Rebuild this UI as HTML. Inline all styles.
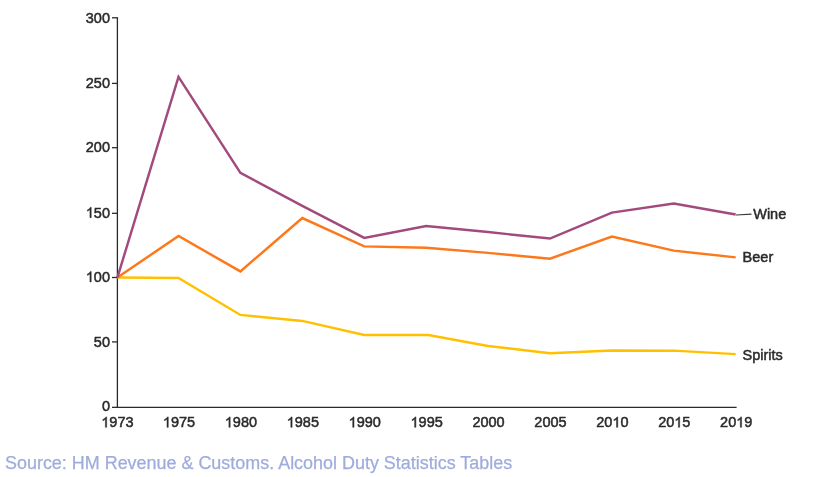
<!DOCTYPE html>
<html><head><meta charset="utf-8"><style>
html,body{margin:0;padding:0;background:#fff;}
body{width:822px;height:477px;overflow:hidden;position:relative;font-family:"Liberation Sans",sans-serif;}
svg{position:absolute;left:0;top:0;will-change:transform;}
.g{fill:#2b2b2b;stroke:#2b2b2b;stroke-width:70px;}
svg text{font-family:"Liberation Sans",sans-serif;font-size:14.5px;fill:#2b2b2b;stroke:#2b2b2b;stroke-width:0.5px;}
.src{position:absolute;left:4.8px;top:453px;font-size:17.96px;color:#9eacdc;-webkit-text-stroke:0.25px #9eacdc;white-space:nowrap;will-change:transform;}
</style></head><body>
<svg width="822" height="477" viewBox="0 0 822 477">
<path d="M117.4,17.2 V408.0 M116.80000000000001,407.4 H736.6" fill="none" stroke="#2b2b2b" stroke-width="1.3"/>
<line x1="112" x2="117.4" y1="407.35" y2="407.35" stroke="#2b2b2b" stroke-width="1.3"/>
<text transform="translate(110.00,411.35) scale(1,1.04)" text-anchor="end">0</text>
<line x1="112" x2="117.4" y1="341.90" y2="341.90" stroke="#2b2b2b" stroke-width="1.3"/>
<text transform="translate(110.00,346.50) scale(1,1.04)" text-anchor="end">50</text>
<line x1="112" x2="117.4" y1="277.50" y2="277.50" stroke="#2b2b2b" stroke-width="1.3"/>
<path class="g" transform="translate(85.807,281.900) scale(0.007080,-0.007080)" d="M763,0 L583,0 L583,1147 Q518,1085 412,1023 Q306,961 222,930 L222,1104 Q373,1175 486,1276 Q599,1377 646,1472 L763,1472 Z"/><text transform="translate(110.00,281.90) scale(1,1.04)" text-anchor="end"> 00</text>
<line x1="112" x2="117.4" y1="213.30" y2="213.30" stroke="#2b2b2b" stroke-width="1.3"/>
<path class="g" transform="translate(85.807,217.700) scale(0.007080,-0.007080)" d="M763,0 L583,0 L583,1147 Q518,1085 412,1023 Q306,961 222,930 L222,1104 Q373,1175 486,1276 Q599,1377 646,1472 L763,1472 Z"/><text transform="translate(110.00,217.70) scale(1,1.04)" text-anchor="end"> 50</text>
<line x1="112" x2="117.4" y1="147.70" y2="147.70" stroke="#2b2b2b" stroke-width="1.3"/>
<text transform="translate(110.00,152.10) scale(1,1.04)" text-anchor="end">200</text>
<line x1="112" x2="117.4" y1="83.40" y2="83.40" stroke="#2b2b2b" stroke-width="1.3"/>
<text transform="translate(110.00,87.80) scale(1,1.04)" text-anchor="end">250</text>
<line x1="112" x2="117.4" y1="17.80" y2="17.80" stroke="#2b2b2b" stroke-width="1.3"/>
<text transform="translate(110.00,22.90) scale(1,1.04)" text-anchor="end">300</text>
<path class="g" transform="translate(101.272,427.300) scale(0.007080,-0.007080)" d="M763,0 L583,0 L583,1147 Q518,1085 412,1023 Q306,961 222,930 L222,1104 Q373,1175 486,1276 Q599,1377 646,1472 L763,1472 Z"/><text transform="translate(117.40,427.30) scale(1,1.04)" text-anchor="middle"> 973</text>
<path class="g" transform="translate(162.872,427.300) scale(0.007080,-0.007080)" d="M763,0 L583,0 L583,1147 Q518,1085 412,1023 Q306,961 222,930 L222,1104 Q373,1175 486,1276 Q599,1377 646,1472 L763,1472 Z"/><text transform="translate(179.00,427.30) scale(1,1.04)" text-anchor="middle"> 975</text>
<path class="g" transform="translate(224.782,427.300) scale(0.007080,-0.007080)" d="M763,0 L583,0 L583,1147 Q518,1085 412,1023 Q306,961 222,930 L222,1104 Q373,1175 486,1276 Q599,1377 646,1472 L763,1472 Z"/><text transform="translate(240.91,427.30) scale(1,1.04)" text-anchor="middle"> 980</text>
<path class="g" transform="translate(286.692,427.300) scale(0.007080,-0.007080)" d="M763,0 L583,0 L583,1147 Q518,1085 412,1023 Q306,961 222,930 L222,1104 Q373,1175 486,1276 Q599,1377 646,1472 L763,1472 Z"/><text transform="translate(302.82,427.30) scale(1,1.04)" text-anchor="middle"> 985</text>
<path class="g" transform="translate(348.602,427.300) scale(0.007080,-0.007080)" d="M763,0 L583,0 L583,1147 Q518,1085 412,1023 Q306,961 222,930 L222,1104 Q373,1175 486,1276 Q599,1377 646,1472 L763,1472 Z"/><text transform="translate(364.73,427.30) scale(1,1.04)" text-anchor="middle"> 990</text>
<path class="g" transform="translate(410.512,427.300) scale(0.007080,-0.007080)" d="M763,0 L583,0 L583,1147 Q518,1085 412,1023 Q306,961 222,930 L222,1104 Q373,1175 486,1276 Q599,1377 646,1472 L763,1472 Z"/><text transform="translate(426.64,427.30) scale(1,1.04)" text-anchor="middle"> 995</text>
<text transform="translate(488.55,427.30) scale(1,1.04)" text-anchor="middle">2000</text>
<text transform="translate(550.46,427.30) scale(1,1.04)" text-anchor="middle">2005</text>
<path class="g" transform="translate(612.370,427.300) scale(0.007080,-0.007080)" d="M763,0 L583,0 L583,1147 Q518,1085 412,1023 Q306,961 222,930 L222,1104 Q373,1175 486,1276 Q599,1377 646,1472 L763,1472 Z"/><text transform="translate(612.37,427.30) scale(1,1.04)" text-anchor="middle">20 0</text>
<path class="g" transform="translate(674.280,427.300) scale(0.007080,-0.007080)" d="M763,0 L583,0 L583,1147 Q518,1085 412,1023 Q306,961 222,930 L222,1104 Q373,1175 486,1276 Q599,1377 646,1472 L763,1472 Z"/><text transform="translate(674.28,427.30) scale(1,1.04)" text-anchor="middle">20 5</text>
<path class="g" transform="translate(736.190,427.300) scale(0.007080,-0.007080)" d="M763,0 L583,0 L583,1147 Q518,1085 412,1023 Q306,961 222,930 L222,1104 Q373,1175 486,1276 Q599,1377 646,1472 L763,1472 Z"/><text transform="translate(736.19,427.30) scale(1,1.04)" text-anchor="middle">20 9</text>
<polyline points="117.40,277.53 178.50,278.05 240.41,314.93 302.32,320.91 364.23,335.06 428.34,334.93 488.05,345.97 549.96,353.25 611.87,350.52 673.78,350.65 735.69,354.15" fill="none" stroke="#ffc000" stroke-width="2.45" stroke-linejoin="miter"/>
<polyline points="117.40,277.53 178.50,235.98 240.41,271.43 302.32,218.05 364.23,246.37 426.14,247.66 488.05,252.86 549.96,258.70 611.87,236.63 673.78,250.65 735.69,257.40" fill="none" stroke="#fd781a" stroke-width="2.45" stroke-linejoin="miter"/>
<polyline points="117.40,277.53 178.50,76.89 240.41,172.86 302.32,205.85 364.23,237.92 426.14,225.98 488.05,232.08 549.96,238.57 611.87,212.60 673.78,203.51 735.69,214.55" fill="none" stroke="#a24a7d" stroke-width="2.45" stroke-linejoin="miter"/>
<line x1="736" y1="215.0" x2="751.5" y2="214.2" stroke="#3a3a3a" stroke-width="1.2"/>
<text transform="translate(753.20,219.10) scale(1,1.04)" text-anchor="start">Wine</text>
<text transform="translate(742.60,262.40) scale(1,1.04)" text-anchor="start">Beer</text>
<text transform="translate(742.60,360.40) scale(1,1.04)" text-anchor="start">Spirits</text>
</svg>
<div class="src">Source: HM Revenue &amp; Customs. Alcohol Duty Statistics Tables</div>
</body></html>
